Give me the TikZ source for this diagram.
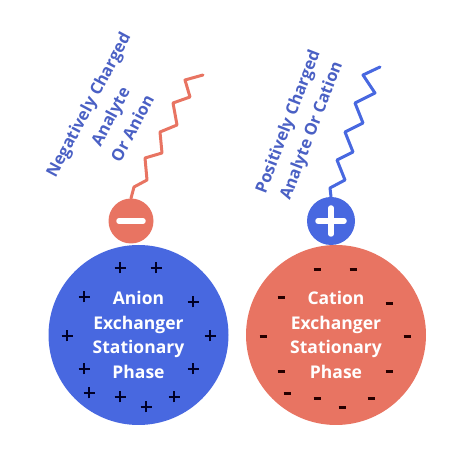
\documentclass[tikz,border=0pt]{standalone}
\usepackage{fontspec}
\setmainfont{Open Sans}
\definecolor{ionblue}{RGB}{72,104,224}
\definecolor{ionred}{RGB}{232,116,98}
\definecolor{labelblue}{RGB}{74,96,196}
\begin{document}
\begin{tikzpicture}[
  x=1pt, y=1pt,
  phase/.style={
    circle,
    minimum size=180pt,
    inner sep=0pt,
    align=center,
    text=white,
    font=\fontsize{17.5}{24.5}\selectfont\bfseries
  },
  ion/.style={
    circle,
    inner sep=0pt
  },
  analyte/.style={
    align=center,
    text=labelblue,
    inner sep=0pt,
    font=\fontsize{16.5}{25}\selectfont\bfseries
  },
  chain/.style={
    line width=3pt,
    line join=round,
    line cap=round
  },
  sign/.style={
    white,
    line width=5.5pt,
    line cap=round
  }
]
\useasboundingbox (0,0) rectangle (474,474);
% stationary phases
\node[phase, fill=ionblue] (anion) at (138.5,139) {Anion\\Exchanger\\Stationary\\Phase};
\node[phase, fill=ionred] (cation) at (336,139) {Cation\\Exchanger\\Stationary\\Phase};
% charged analytes
\node[ion, fill=ionred, minimum size=45pt] (neg) at (131,253) {};
\node[ion, fill=ionblue, minimum size=48pt] (pos) at (331,253) {};
\draw[sign] ([xshift=-12pt]neg.center) -- ([xshift=12pt]neg.center);
\draw[sign] ([xshift=-13pt]pos.center) -- ([xshift=13pt]pos.center);
\draw[sign] ([yshift=-13pt]pos.center) -- ([yshift=13pt]pos.center);
% chains
\coordinate (negend) at (203,399);
\coordinate (posend) at (380,407);
\draw[chain, ionred] (neg.north) -- (134,287) -- (147,294) -- (145,316) -- (162,321)
  -- (160,342) -- (177,349) -- (173,371) -- (190,377) -- (185,394) -- (negend);
\draw[chain, ionblue] (pos.north) -- (330,286) -- (345,294) -- (337,314) -- (353,322)
  -- (345,342) -- (363,351) -- (355,371) -- (375,381) -- (363,399) -- (posend);
% labels
\node[analyte, rotate=62] (neglabel) at (110,357.5) {Negatively Charged\\Analyte\\Or Anion};
\node[analyte, rotate=69] (poslabel) at (300.5,347.5) {Positively Charged\\Analyte Or Cation};
% fixed charges
\foreach \px/\py in {120/206, 156/206, 84/177, 193/172, 67/138, 210/138,
                     84/105, 193/105, 89/81, 120/77, 146/67, 174/77}
  \draw[line width=2pt, black!85!blue] (\px-5.5,\py) -- (\px+5.5,\py) (\px,\py-5.5) -- (\px,\py+5.5);
\foreach \px/\py in {317/204, 353/204, 281/176, 389/170, 263/137, 407/137,
                     281/102, 389/102, 287/80, 317/75, 342/66, 371/75}
  \draw[line width=3pt, black!85!red] (\px-3.5,\py) -- (\px+3.5,\py);
\end{tikzpicture}
\end{document}
